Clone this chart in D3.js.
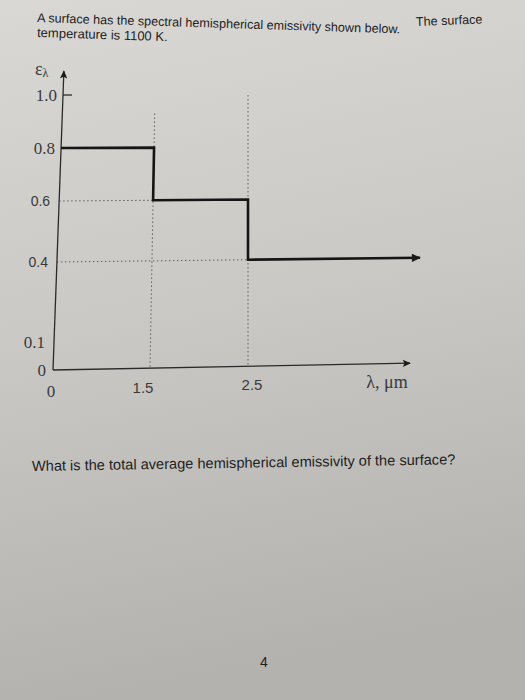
<!DOCTYPE html>
<html>
<head>
<meta charset="utf-8">
<script src="https://cdn.jsdelivr.net/npm/d3@7/dist/d3.min.js"></script>
<style>
  html, body { margin: 0; padding: 0; }
  body { width: 525px; height: 700px; overflow: hidden; }
  text { white-space: pre; }
</style>
</head>
<body>
<script>
// ---- data ----
const wavelengthBreaks = [0, 1.5, 2.5];      // start of each band (µm)
const emissivity = [0.8, 0.6, 0.4];          // ε_λ in each band
const lastWavelength = 4.0;                  // arrow end of the last band
const yTickValues = [0, 0.1, 0.4, 0.6, 0.8, 1.0];
const yTickLabels = ["0", "0.1", "0.4", "0.6", "0.8", "1.0"];
const xTickValues = [0, 1.5, 2.5];
const xTickLabels = ["0", "1.5", "2.5"];
const headerParts = [
  "A surface has the spectral hemispherical emissivity shown below.",
  "The surface",
  "temperature is 1100 K."
];
const questionText = "What is the total average hemispherical emissivity of the surface?";
const pageNumber = "4";

// ---- setup ----
const W = 525, H = 700;
const svg = d3.select("body").append("svg").attr("width", W).attr("height", H);
const defs = svg.append("defs");
const grad = defs.append("linearGradient").attr("id", "paper")
  .attr("x1", 0).attr("y1", 0).attr("x2", 0.15).attr("y2", 1);
grad.append("stop").attr("offset", "0%").attr("stop-color", "#dad8d5");
grad.append("stop").attr("offset", "50%").attr("stop-color", "#cac8c5");
grad.append("stop").attr("offset", "100%").attr("stop-color", "#b4b2af");
svg.append("rect").attr("width", W).attr("height", H).attr("fill", "url(#paper)");

defs.append("marker").attr("id", "arrow").attr("viewBox", "0 0 10 10")
  .attr("refX", 9).attr("refY", 5).attr("markerWidth", 9).attr("markerHeight", 8)
  .attr("orient", "auto").attr("markerUnits", "userSpaceOnUse")
  .append("path").attr("d", "M0,0.5 L10,5 L0,9.5 L2,5 Z").attr("fill", "#1a1a1a");
defs.append("marker").attr("id", "arrowBig").attr("viewBox", "0 0 10 10")
  .attr("refX", 9).attr("refY", 5).attr("markerWidth", 11).attr("markerHeight", 9)
  .attr("orient", "auto").attr("markerUnits", "userSpaceOnUse")
  .append("path").attr("d", "M0,0.5 L10,5 L0,9.5 Z").attr("fill", "#1a1a1a");

const sans = "'Liberation Sans', Arial, sans-serif";
const serif = "'Liberation Serif', 'Times New Roman', serif";
const ink = "#1e1e1e";
const labelInk = "#3a3a3a";

// schematic (non-uniform) scales, as drawn on the sheet
const x = d3.scaleLinear().domain([0, 1.5, 2.5, lastWavelength]).range([53, 150, 248, 420]);
const y = d3.scaleLinear().domain(yTickValues).range([370, 342, 262, 201, 148, 95]);

// slight photographic warp of the sheet (pixel -> pixel)
const X0 = x(0), Y0 = y(0), YT = y(1), XE = x(lastWavelength);
function warp(px, py) {
  const v = Math.max(0, Math.min(1.2, (Y0 - py) / (Y0 - YT)));
  const u = (px - X0) / (XE - X0);
  const u2 = Math.max(0, Math.min(1, (px - X0) / (x(2.5) - X0)));
  return [px + 10 * v * (1 - u2), py - 7 * u * (1 - v)];
}
const P = (a, b) => warp(x(a), y(b));
const axisXAt = val => warp(X0, y(val))[0];

// ---- header text ----
const hdr = svg.append("g").attr("font-family", sans).attr("font-size", 12.6).attr("fill", ink);
hdr.append("text").attr("transform", "translate(37,22) rotate(1.8)").text(headerParts[0]);
hdr.append("text").attr("transform", "translate(416,26) rotate(-2.2)").text(headerParts[1]);
hdr.append("text").attr("font-size", 13).attr("transform", "translate(37,37) rotate(1.8)").text(headerParts[2]);

// ---- gridlines (dotted) ----
const grid = svg.append("g").attr("stroke", "#5e5e5e").attr("stroke-width", 1)
  .attr("stroke-dasharray", "1.5,2.5").attr("fill", "none");
const seg = (a, b) => grid.append("line")
  .attr("x1", a[0]).attr("y1", a[1]).attr("x2", b[0]).attr("y2", b[1]);
seg(P(1.5, 0.93), P(1.5, 0));
seg(P(2.5, 1.0), P(2.5, 0));
seg(P(0, 0.6), P(1.5, 0.6));
seg(P(0, 0.4), P(2.5, 0.4));

// ---- axes ----
const axes = svg.append("g").attr("stroke", "#2a2a2a").attr("stroke-width", 1.3).attr("fill", "none");
const yTop = P(0, 1.09);
axes.append("line").attr("x1", X0).attr("y1", Y0).attr("x2", yTop[0]).attr("y2", yTop[1])
  .attr("marker-end", "url(#arrow)");
const xEnd = warp(410, Y0);
axes.append("line").attr("x1", X0).attr("y1", Y0).attr("x2", xEnd[0]).attr("y2", xEnd[1])
  .attr("marker-end", "url(#arrow)");
// tick at 1.0
const t1 = P(0, 1.0);
axes.append("line").attr("x1", t1[0]).attr("x2", t1[0] + 9).attr("y1", t1[1]).attr("y2", t1[1]);

// y tick labels (mixed fonts as on the sheet)
const yFont = { "0": serif, "0.1": serif, "0.4": sans, "0.6": sans, "0.8": serif, "1.0": serif };
const ySize = { "0": 17, "0.1": 17, "0.4": 14, "0.6": 14, "0.8": 17, "1.0": 17 };
const yDx = { "0": -7, "0.1": -9, "0.4": -9, "0.6": -9, "0.8": -6, "1.0": -6 };
svg.append("g").selectAll("text").data(yTickValues).join("text")
  .attr("x", (d, i) => axisXAt(d) + yDx[yTickLabels[i]])
  .attr("y", (d, i) => y(d) + (yFont[yTickLabels[i]] === serif ? 5.5 : 5))
  .attr("text-anchor", "end")
  .attr("font-family", (d, i) => yFont[yTickLabels[i]])
  .attr("font-size", (d, i) => ySize[yTickLabels[i]])
  .attr("fill", labelInk)
  .text((d, i) => yTickLabels[i]);

// x tick labels
const xFont = [serif, sans, sans];
const xDx = [-2, -7, 4];
const xBase = [397, 393, 390];
svg.append("g").selectAll("text").data(xTickValues).join("text")
  .attr("x", (d, i) => x(d) + xDx[i])
  .attr("y", (d, i) => xBase[i])
  .attr("text-anchor", "middle")
  .attr("font-family", (d, i) => xFont[i])
  .attr("font-size", (d, i) => i === 0 ? 17 : 15)
  .attr("fill", labelInk)
  .text((d, i) => xTickLabels[i]);

// axis titles
svg.append("text").attr("x", 35).attr("y", 75).attr("font-family", serif)
  .attr("font-size", 18).attr("fill", labelInk)
  .append("tspan").text("ε")
  .append("tspan").attr("font-size", 12).attr("dy", 2).text("λ");
svg.append("text").attr("x", 387).attr("y", 388).attr("text-anchor", "middle")
  .attr("font-family", serif).attr("font-size", 18).attr("fill", labelInk)
  .text("λ, μm");

// ---- step line ----
const bandEnds = wavelengthBreaks.slice(1).concat([lastWavelength]);
const pts = [];
emissivity.forEach((e, i) => {
  pts.push([wavelengthBreaks[i], e]);
  pts.push([bandEnds[i], e]);
});
const line = d3.line().x(d => P(d[0], d[1])[0]).y(d => P(d[0], d[1])[1]);
svg.append("path").datum(pts).attr("d", line)
  .attr("fill", "none").attr("stroke", "#151515").attr("stroke-width", 2.6)
  .attr("stroke-linejoin", "miter").attr("marker-end", "url(#arrowBig)");

// ---- question & page number ----
svg.append("text").attr("transform", "translate(32,471) rotate(-0.9)").attr("font-family", sans)
  .attr("font-size", 14.6).attr("fill", ink).text(questionText);
svg.append("text").attr("x", 264).attr("y", 667).attr("text-anchor", "middle")
  .attr("font-family", sans).attr("font-size", 14).attr("fill", ink).text(pageNumber);
</script>
</body>
</html>
